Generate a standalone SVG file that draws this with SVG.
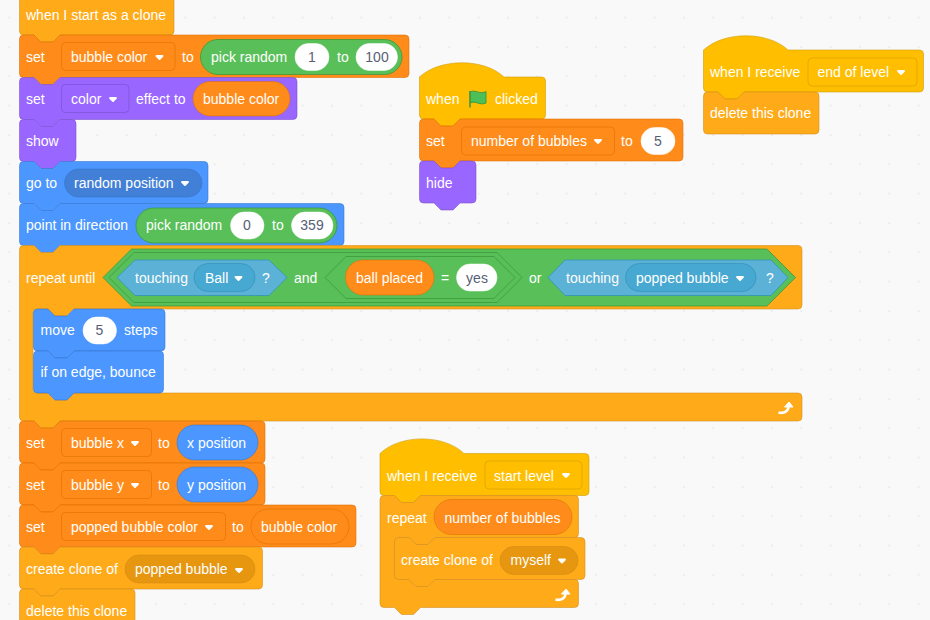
<svg xmlns="http://www.w3.org/2000/svg" xmlns:xlink="http://www.w3.org/1999/xlink" width="930" height="620" viewBox="0 0 930 620">
<style>
text{font-family:"Liberation Sans",Arial,sans-serif;font-size:14px;fill:#fff}
text.n{fill:#575E75;text-anchor:middle}
.or{fill:#FF8C1A;stroke:#DB6E00;stroke-width:1;stroke-opacity:.55}
.ct{fill:#FFAB19;stroke:#CF8B17;stroke-width:1;stroke-opacity:.55}
.ctd{fill:#E6960F;stroke:#CF8B17;stroke-width:1;stroke-opacity:.55}
.lk{fill:#9966FF;stroke:#774DCB;stroke-width:1;stroke-opacity:.55}
.mo{fill:#4C97FF;stroke:#3373CC;stroke-width:1;stroke-opacity:.55}
.mod{fill:#4280D7;stroke:#3373CC;stroke-width:1;stroke-opacity:.55}
.ev{fill:#FFBF00;stroke:#CC9900;stroke-width:1;stroke-opacity:.55}
.gr{fill:#59C059;stroke:#389438;stroke-width:1;stroke-opacity:.7}
.se{fill:#5CB1D6;stroke:#2E8EB8;stroke-width:1;stroke-opacity:.7}
.sed{fill:#47A8D1;stroke:#2E8EB8;stroke-width:1;stroke-opacity:.6}
.w{fill:#fff;stroke:#fff;stroke-width:.5}
</style>
<defs>
<pattern id="grid" patternUnits="userSpaceOnUse" width="29.33" height="29.33" x="-5.4" y="3"><circle cx="14.67" cy="14.67" r="0.8" fill="#DDDDDD"/></pattern>
<path id="dd" d="M0,0h6l-3,3z" fill="#fff" stroke="#fff" stroke-width="1.8" stroke-linejoin="round"/>
<g id="loop"><path d="M0,10.500C6,12 10,9 10,4" fill="none" stroke="#fff" stroke-width="2.6"/><path d="M6,5L14.500,5L10.500,0Z" fill="#fff" stroke="#fff" stroke-linejoin="round"/></g>
</defs>
<rect width="930" height="620" fill="#F9F9F9"/>
<rect width="930" height="620" fill="url(#grid)"/>

<g id="clone-hat"><path class="ct" d="M19.500,-10H170Q174,-10 174,-6V31Q174,35 170,35H60L53,42H41L34,35H23.500Q19.500,35 19.500,31Z"/><text x="26" y="20">when I start as a clone</text></g>

<g id="set-bubble-color"><path class="or" d="M19.500,39Q19.500,35 23.500,35H34L41,42H53L60,35H405Q409,35 409,39V73.500Q409,77.500 405,77.500H60L53,84.500H41L34,77.500H23.500Q19.500,77.500 19.500,73.500Z"/>
<text x="26" y="62">set</text><rect class="or" x="61.500" y="42.500" width="113.500" height="28" rx="4"/><text x="71" y="62">bubble color</text><use href="#dd" x="156.500" y="56"/><text x="182" y="62">to</text>
<rect class="gr" x="200.500" y="39.500" width="201.500" height="35" rx="17.500"/><text x="211" y="62">pick random</text><rect class="w" x="295" y="43.500" width="34" height="27" rx="13.500"/><text class="n" x="312" y="62">1</text><text x="337" y="62">to</text><rect class="w" x="356" y="43.500" width="41.500" height="27" rx="13.500"/><text class="n" x="377" y="62">100</text></g>

<g id="set-color-effect"><path class="lk" d="M19.500,81.500Q19.500,77.500 23.500,77.500H34L41,84.500H53L60,77.500H293Q297,77.500 297,81.500V115.500Q297,119.500 293,119.500H60L53,126.500H41L34,119.500H23.500Q19.500,119.500 19.500,115.500Z"/>
<text x="26" y="104">set</text><rect class="lk" x="61.500" y="84.500" width="67.500" height="28" rx="4"/><text x="71" y="104">color</text><use href="#dd" x="110" y="98"/><text x="136" y="104">effect to</text>
<rect class="or" x="193" y="81.500" width="97" height="34.500" rx="17.250"/><text x="203" y="104">bubble color</text></g>

<g id="show"><path class="lk" d="M19.500,123.500Q19.500,119.500 23.500,119.500H34L41,126.500H53L60,119.500H72Q76,119.500 76,123.500V157.500Q76,161.500 72,161.500H60L53,168.500H41L34,161.500H23.500Q19.500,161.500 19.500,157.500Z"/><text x="26" y="146">show</text></g>

<g id="go-to"><path class="mo" d="M19.500,165.500Q19.500,161.500 23.500,161.500H34L41,168.500H53L60,161.500H204Q208,161.500 208,165.500V199.500Q208,203.500 204,203.500H60L53,210.500H41L34,203.500H23.500Q19.500,203.500 19.500,199.500Z"/>
<text x="26" y="188">go to</text><rect class="mod" x="64.500" y="169" width="137.500" height="28" rx="14"/><text x="74" y="188">random position</text><use href="#dd" x="182" y="182"/></g>

<g id="point-in-direction"><path class="mo" d="M19.500,207.500Q19.500,203.500 23.500,203.500H34L41,210.500H53L60,203.500H340Q344,203.500 344,207.500V241.500Q344,245.500 340,245.500H60L53,252.500H41L34,245.500H23.500Q19.500,245.500 19.500,241.500Z"/>
<text x="26" y="230">point in direction</text><rect class="gr" x="136" y="208" width="201" height="35" rx="17.500"/><text x="146" y="230">pick random</text><rect class="w" x="230.500" y="212" width="33.500" height="27" rx="13.500"/><text class="n" x="247" y="230">0</text><text x="272" y="230">to</text><rect class="w" x="291.500" y="212" width="41.500" height="27" rx="13.500"/><text class="n" x="312" y="230">359</text></g>

<g id="repeat-until"><path class="ct" d="M19.500,249.500Q19.500,245.500 23.500,245.500H34L41,252.500H53L60,245.500H798Q802,245.500 802,249.500V305Q802,309 798,309H73.500L66.500,316H54.500L47.500,309H37Q33,309 33,313V389Q33,393 37,393H47.500L54.500,400H66.500L73.500,393H798Q802,393 802,397V417Q802,421 798,421H60L53,428H41L34,421H23.500Q19.500,421 19.500,417Z"/>
<text x="26" y="283">repeat until</text>
<polygon class="gr" points="103,277.500 131.500,249 767,249 795.500,277.500 767,306 131.500,306"/>
<polygon class="gr" points="109,277.500 134,252.500 497,252.500 522,277.500 497,302.500 134,302.500"/>
<polygon class="se" points="117,277.500 135,260 269,260 287,277.500 269,295.500 135,295.500"/>
<text x="135" y="283">touching</text><rect class="sed" x="194" y="263.500" width="61" height="28" rx="14"/><text x="205" y="283">Ball</text><use href="#dd" x="235.500" y="277"/><text x="262" y="283">?</text>
<text x="294" y="283">and</text>
<polygon class="gr" points="325,277.500 346,256.500 494,256.500 515,277.500 494,298.500 346,298.500"/>
<rect class="or" x="345.500" y="260" width="88.500" height="35" rx="17.500"/><text x="356" y="283">ball placed</text><text x="441" y="283">=</text><rect class="w" x="456.500" y="264" width="40.500" height="27" rx="13.500"/><text class="n" x="477" y="283">yes</text>
<text x="529" y="283">or</text>
<polygon class="se" points="548,277.500 565,260 771,260 788,277.500 771,295.500 565,295.500"/>
<text x="566" y="283">touching</text><rect class="sed" x="625.500" y="263.500" width="130.500" height="28" rx="14"/><text x="636" y="283">popped bubble</text><use href="#dd" x="737" y="277"/><text x="766" y="283">?</text>
<use href="#loop" x="778.500" y="402"/></g>

<g id="move"><path class="mo" d="M33.500,313Q33.500,309 37.500,309H48L55,316H67L74,309H161Q165,309 165,313V347Q165,351 161,351H74L67,358H55L48,351H37.500Q33.500,351 33.500,347Z"/><text x="40.500" y="335">move</text><rect class="w" x="83" y="317" width="33.500" height="27" rx="13.500"/><text class="n" x="99.500" y="335">5</text><text x="124" y="335">steps</text></g>

<g id="if-on-edge"><path class="mo" d="M33.500,355Q33.500,351 37.500,351H48L55,358H67L74,351H159.500Q163.500,351 163.500,355V389Q163.500,393 159.500,393H74L67,400H55L48,393H37.500Q33.500,393 33.500,389Z"/><text x="40.500" y="377">if on edge, bounce</text></g>

<g id="set-bubble-x"><path class="or" d="M19.500,425Q19.500,421 23.500,421H34L41,428H53L60,421H261Q265,421 265,425V459Q265,463 261,463H60L53,470H41L34,463H23.500Q19.500,463 19.500,459Z"/>
<text x="26" y="448">set</text><rect class="or" x="61.500" y="428.500" width="90" height="28" rx="4"/><text x="71" y="448">bubble x</text><use href="#dd" x="132" y="442"/><text x="158" y="448">to</text><rect class="mo" x="177" y="425" width="81" height="35" rx="17.500"/><text x="187" y="448">x position</text></g>

<g id="set-bubble-y"><path class="or" d="M19.500,467Q19.500,463 23.500,463H34L41,470H53L60,463H261Q265,463 265,467V501Q265,505 261,505H60L53,512H41L34,505H23.500Q19.500,505 19.500,501Z"/>
<text x="26" y="490">set</text><rect class="or" x="61.500" y="470.500" width="90" height="28" rx="4"/><text x="71" y="490">bubble y</text><use href="#dd" x="132" y="484"/><text x="158" y="490">to</text><rect class="mo" x="177" y="467" width="81" height="35" rx="17.500"/><text x="187" y="490">y position</text></g>

<g id="set-popped-color"><path class="or" d="M19.500,509Q19.500,505 23.500,505H34L41,512H53L60,505H352Q356,505 356,509V543Q356,547 352,547H60L53,554H41L34,547H23.500Q19.500,547 19.500,543Z"/>
<text x="26" y="532">set</text><rect class="or" x="61.500" y="512.500" width="164" height="28" rx="4"/><text x="71" y="532">popped bubble color</text><use href="#dd" x="206" y="526"/><text x="232" y="532">to</text><rect class="or" x="251" y="509" width="98" height="35" rx="17.500"/><text x="261" y="532">bubble color</text></g>

<g id="create-clone-popped"><path class="ct" d="M19.500,551Q19.500,547 23.500,547H34L41,554H53L60,547H258.500Q262.500,547 262.500,551V585Q262.500,589 258.500,589H60L53,596H41L34,589H23.500Q19.500,589 19.500,585Z"/>
<text x="26" y="574">create clone of</text><rect class="ctd" x="125" y="555" width="130" height="28" rx="14"/><text x="135" y="574">popped bubble</text><use href="#dd" x="236" y="569"/></g>

<g id="delete-clone-bottom"><path class="ct" d="M19.500,593Q19.500,589 23.500,589H34L41,596H53L60,589H131Q135,589 135,593V640H19.500Z"/><text x="26" y="616">delete this clone</text></g>

<g id="flag-hat"><path class="ev" d="M419.500,77C440,58 484,58 504,77H541.500Q545.500,77 545.500,81V115Q545.500,119 541.500,119H460L453,126H441L434,119H423.500Q419.500,119 419.500,115Z"/>
<text x="426" y="104">when</text><path d="M470,92C475,89 480,95 486,91.500V103C480,106 475,100 470.500,103Z" fill="#4CBF56" stroke="#45993D" stroke-width="1"/><path d="M470,91V107.500" stroke="#45993D" stroke-width="1.600"/><text x="495" y="104">clicked</text></g>

<g id="set-number"><path class="or" d="M419.500,123Q419.500,119 423.500,119H434L441,126H453L460,119H679Q683,119 683,123V157Q683,161 679,161H460L453,168H441L434,161H423.500Q419.500,161 419.500,157Z"/>
<text x="426" y="146">set</text><rect class="or" x="461.500" y="127" width="153" height="28" rx="4"/><text x="471" y="146">number of bubbles</text><use href="#dd" x="595" y="140"/><text x="621" y="146">to</text><rect class="w" x="641" y="127.500" width="34" height="27" rx="13.500"/><text class="n" x="658" y="146">5</text></g>

<g id="hide"><path class="lk" d="M419.500,165Q419.500,161 423.500,161H434L441,168H453L460,161H472Q476,161 476,165V199Q476,203 472,203H460L453,210H441L434,203H423.500Q419.500,203 419.500,199Z"/><text x="426" y="188">hide</text></g>

<g id="end-level-hat"><path class="ev" d="M703.500,50C724,31 768,31 788,50H919.500Q923.500,50 923.500,54V88Q923.500,92 919.500,92H744L737,99H725L718,92H707.500Q703.500,92 703.500,88Z"/>
<text x="710" y="77">when I receive</text><rect class="ev" x="808" y="58" width="109" height="28" rx="4"/><text x="817.500" y="77">end of level</text><use href="#dd" x="898" y="71"/></g>

<g id="delete-clone-right"><path class="ct" d="M703.500,96Q703.500,92 707.500,92H718L725,99H737L744,92H815Q819,92 819,96V130Q819,134 815,134H707.500Q703.500,134 703.500,130Z"/><text x="710" y="118">delete this clone</text></g>

<g id="start-level-hat"><path class="ev" d="M380,453.500C400,434 444,434 464,453.500H585Q589,453.500 589,457.500V491.500Q589,495.500 585,495.500H420.500L413.500,502.500H401.500L394.500,495.500H384Q380,495.500 380,491.500Z"/>
<text x="387" y="481">when I receive</text><rect class="ev" x="485" y="461" width="97" height="28" rx="4"/><text x="494" y="481">start level</text><use href="#dd" x="563" y="474"/></g>

<g id="repeat"><path class="ct" d="M380,499.500Q380,495.500 384,495.500H394.500L401.500,502.500H413.500L420.500,495.500H574.500Q578.500,495.500 578.500,499.500V533.500Q578.500,537.500 574.500,537.500H435L428,544.500H416L409,537.500H398.500Q394.500,537.500 394.500,541.500V575.500Q394.500,579.500 398.500,579.500H409L416,586.500H428L435,579.500H574.500Q578.500,579.500 578.500,583.500V603.500Q578.500,607.500 574.500,607.500H420.500L413.500,614.500H401.500L394.500,607.500H384Q380,607.500 380,603.500Z"/>
<text x="387" y="523">repeat</text><rect class="or" x="434" y="499.500" width="138" height="35" rx="17.500"/><text x="444.500" y="523">number of bubbles</text><use href="#loop" x="555.500" y="589"/></g>

<g id="create-clone-myself"><path class="ct" d="M394.500,541.500Q394.500,537.500 398.500,537.500H409L416,544.500H428L435,537.500H581Q585,537.500 585,541.500V575.500Q585,579.500 581,579.500H435L428,586.500H416L409,579.500H398.500Q394.500,579.500 394.500,575.500Z"/>
<text x="401" y="565">create clone of</text><rect class="ctd" x="500" y="546.500" width="78" height="28" rx="14"/><text x="510.500" y="565">myself</text><use href="#dd" x="559" y="559.500"/></g>
</svg>
